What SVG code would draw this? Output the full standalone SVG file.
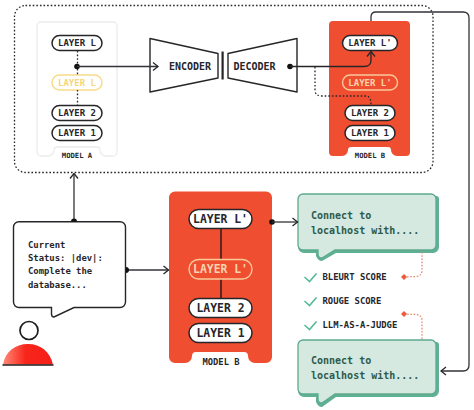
<svg xmlns="http://www.w3.org/2000/svg" width="474" height="410" viewBox="0 0 474 410">
<style>
.t{font-family:"DejaVu Sans Mono","Liberation Mono",monospace;font-weight:700;fill:#26262a}
.s{font-size:9px;text-anchor:middle}
.b{font-size:11.4px;text-anchor:middle}
.pill{fill:#fff;stroke:#26262a;stroke-width:1.5}
.con{fill:none;stroke:#333338;stroke-width:1.3}
.dot{fill:none;stroke:#26262a;stroke-width:1.3;stroke-dasharray:1.6 2}
.org{fill:none;stroke:#e0826a;stroke-width:1.2;stroke-dasharray:1.6 1.6}
.bub{fill:#d5e9e0;stroke:#5fa98f;stroke-width:1.3}
.sh{fill:#5fb196}
.g{font-family:"DejaVu Sans Mono",monospace;font-weight:700;font-size:10px;fill:#2e5a4c}
.st{font-family:"DejaVu Sans Mono",monospace;font-weight:700;font-size:8.9px;fill:#26262a}
.chk{fill:none;stroke:#55bb9c;stroke-width:1.6}
</style>
<defs>
<linearGradient id="dome" x1="0" x2="1" y1="0" y2="0"><stop offset="0" stop-color="#ff8a78"/><stop offset="0.45" stop-color="#f8251b"/><stop offset="1" stop-color="#f4201a"/></linearGradient>
<marker id="arr" viewBox="0 0 8 10" refX="7" refY="5" markerWidth="8" markerHeight="10" markerUnits="userSpaceOnUse" orient="auto"><path d="M2 1L7 5L2 9" fill="none" stroke="#26262a" stroke-width="1.3"/></marker>
</defs>
<g id="frame"><rect x="14.5" y="5.5" width="418.5" height="167" rx="11" class="dot"/></g>
<g id="model-a">
<path d="M41 22H113a4 4 0 0 1 4 4V152a4 4 0 0 1-4 4H106a6 6 0 0 1-6-6V150a3 3 0 0 0-3-3H57a3 3 0 0 0-3 3V150a6 6 0 0 1-6 6H41a4 4 0 0 1-4-4V26a4 4 0 0 1 4-4Z" fill="#fff" stroke="#ececec" stroke-width="1.3"/>
<rect x="52" y="35.5" width="50" height="15" rx="7.5" class="pill"/><text x="77" y="46.3" class="t s">LAYER L</text>
<rect x="52" y="75" width="50" height="15" rx="7.5" fill="#fff" stroke="#f7dc8a" stroke-width="1.5"/><text x="77" y="85.8" class="t s" style="fill:#f6d777">LAYER L</text>
<rect x="52" y="105.5" width="50" height="15" rx="7.5" class="pill"/><text x="77" y="116.3" class="t s">LAYER 2</text>
<rect x="52" y="125.5" width="50" height="15" rx="7.5" class="pill"/><text x="77" y="136.3" class="t s">LAYER 1</text>
<text x="77" y="157.500" class="t" style="font-size:7.2px;text-anchor:middle">MODEL A</text>
</g>
<g id="encoder"><path d="M150 38.5L218 53.5V78L150 92Z" fill="#fff" stroke="#26262a" stroke-width="1.4" stroke-linejoin="round"/><text x="190" y="70" class="t" style="font-size:10px;text-anchor:middle">ENCODER</text></g>
<rect x="221.5" y="51.5" width="2.2" height="28" fill="#26262a"/>
<g id="decoder"><path d="M297 38.5L228 53.5V78L297 92Z" fill="#fff" stroke="#26262a" stroke-width="1.4" stroke-linejoin="round"/><text x="254.500" y="70" class="t" style="font-size:10px;text-anchor:middle">DECODER</text></g>
<g id="model-b-top">
<path d="M333 21H406a4 4 0 0 1 4 4V152a4 4 0 0 1-4 4H397a6 6 0 0 1-6-6V150a3 3 0 0 0-3-3H351a3 3 0 0 0-3 3V150a6 6 0 0 1-6 6H333a4 4 0 0 1-4-4V25a4 4 0 0 1 4-4Z" fill="#f04e30"/>
<rect x="342.5" y="35.5" width="55" height="15" rx="7.5" class="pill"/><text x="370" y="46.3" class="t s">LAYER L'</text>
<rect x="342.5" y="75" width="55" height="15" rx="7.5" fill="none" stroke="#f9c99a" stroke-width="1.4"/><text x="370" y="85.8" class="t s" style="fill:#f9d3ad">LAYER L'</text>
<rect x="345" y="105.5" width="50" height="15" rx="7.5" class="pill"/><text x="370" y="116.3" class="t s">LAYER 2</text>
<rect x="345" y="125.5" width="50" height="15" rx="7.5" class="pill"/><text x="370" y="136.3" class="t s">LAYER 1</text>
<text x="370" y="157.500" class="t" style="font-size:7.2px;text-anchor:middle">MODEL B</text>
</g>
<g id="user-status">
<path d="M19 221.7H120a5.5 5.5 0 0 1 5.5 5.5V302a5.5 5.5 0 0 1-5.5 5.5H74L54 317Q51.5 317 51.5 314V307.5H19a5.5 5.5 0 0 1-5.5-5.5V227.2a5.5 5.5 0 0 1 5.5-5.5Z" fill="#fff" stroke="#26262a" stroke-width="1.4"/>
<text class="st" x="28" y="247.5">Current</text>
<text class="st" x="28" y="261">Status: |dev|:</text>
<text class="st" x="28" y="274">Complete the</text>
<text class="st" x="28" y="287.5">database...</text>
</g>
<g id="user"><circle cx="29" cy="330.5" r="9" fill="#fff" stroke="#1c1c1c" stroke-width="1.7"/><path d="M3 364.5C5 352 15 344 28 344S50 352 53 364.5Z" fill="url(#dome)"/><path d="M2.5 365H53.500" stroke="#1c1c1c" stroke-width="1.4"/></g>
<g id="model-b-main">
<path d="M175 191.5H266a6 6 0 0 1 6 6V357a6 6 0 0 1-6 6H255a7 7 0 0 1-7-7V356a4 4 0 0 0-4-4H196a4 4 0 0 0-4 4V356a7 7 0 0 1-7 7H175a6 6 0 0 1-6-6V197.5a6 6 0 0 1 6-6Z" fill="#f04e30"/>
<path d="M221 228V260M221 279V298" stroke="#2a1a1a" stroke-width="1.5"/>
<rect x="189" y="209.5" width="63" height="19" rx="9.5" class="pill"/><text x="220.5" y="223" class="t b">LAYER L'</text>
<rect x="189" y="259.5" width="63" height="19.5" rx="9.75" fill="none" stroke="#f9c99a" stroke-width="1.4"/><text x="220.5" y="273.3" class="t b" style="fill:#f9d3ad">LAYER L'</text>
<rect x="189" y="298.5" width="63" height="19" rx="9.5" class="pill"/><text x="220.5" y="312" class="t b">LAYER 2</text>
<rect x="189" y="323.5" width="63" height="19" rx="9.5" class="pill"/><text x="220.5" y="337" class="t b">LAYER 1</text>
<text x="221" y="364.500" class="t" style="font-size:8.8px;text-anchor:middle">MODEL B</text>
</g>
<g id="bubble-top">
<path d="M306 196H437a3 3 0 0 1 2 3V247a6 6 0 0 1-6 6H336L322 261Q318 261 316 256V253H304a6 6 0 0 1-6-6V200Z" class="sh"/>
<path d="M303 194H431a5 5 0 0 1 5 5V245a5 5 0 0 1-5 5H335L322 258Q318 258 318 254V250H303a5 5 0 0 1-5-5V199a5 5 0 0 1 5-5Z" class="bub"/>
<text class="g" x="311" y="218.500">Connect to</text><text class="g" x="311" y="233.500">localhost with....</text>
</g>
<g id="bubble-bottom">
<path d="M306 342H437a3 3 0 0 1 2 3V391a6 6 0 0 1-6 6H336L322 407Q318 407 316 402V397H304a6 6 0 0 1-6-6V346Z" class="sh"/>
<path d="M303 340H431a5 5 0 0 1 5 5V389a5 5 0 0 1-5 5H335L322 403Q318 403 318 399V394H303a5 5 0 0 1-5-5V345a5 5 0 0 1 5-5Z" class="bub"/>
<text class="g" x="311" y="364">Connect to</text><text class="g" x="311" y="379">localhost with....</text>
</g>
<g id="scores">
<path class="chk" d="M304.5 277L309.5 281.5L316.5 273.5"/><text class="t" x="322.5" y="280" style="font-size:8.9px">BLEURT SCORE</text>
<path class="chk" d="M304.5 301L309.5 305.5L316.5 297.5"/><text class="t" x="322.5" y="304" style="font-size:8.9px">ROUGE SCORE</text>
<path class="chk" d="M304.5 325L309.5 329.5L316.5 321.5"/><text class="t" x="322.5" y="328" style="font-size:8.9px">LLM-AS-A-JUDGE</text>
</g>
<g id="connectors">
<path class="dot" d="M77.5 51V75M77.5 90V105"/>
<circle cx="77" cy="66.5" r="2.8" fill="#111"/>
<path class="con" d="M77 66.5H158" marker-end="url(#arr)"/>
<circle cx="290" cy="66.5" r="2.8" fill="#111"/>
<path class="con" d="M290 66.5H364Q371 66.5 371 60V51.5" marker-end="url(#arr)" style="stroke:#26262a"/>
<path class="dot" d="M315 67V90Q315 96 322 96H366Q371 96 371 105"/>
<path class="con" d="M371 21V17Q371 12 376 12H463Q469 12 469 18V365Q469 371 463 371H441" marker-end="url(#arr)"/>
<path class="con" d="M74 221V173.5" marker-end="url(#arr)"/><path d="M71 221.5a3 3 0 0 1 6 0Z" fill="#111"/>
<path class="con" d="M126 270H168.5" marker-end="url(#arr)"/><path d="M126 267a3 3 0 0 1 0 6Z" fill="#111"/>
<circle cx="272" cy="222" r="2.8" fill="#111"/>
<path class="con" d="M272 222H297.5" marker-end="url(#arr)"/>
<path class="org" d="M422 252V270Q422 276 416 276.5L404 277"/>
<path d="M404 274L407 277L404 280L401 277Z" fill="#ee5a3a"/>
<path class="org" d="M422 339V320Q422 315 416 314.5L404 314"/>
<path d="M404 311L407 314L404 317L401 314Z" fill="#ee5a3a"/>
</g>
</svg>
